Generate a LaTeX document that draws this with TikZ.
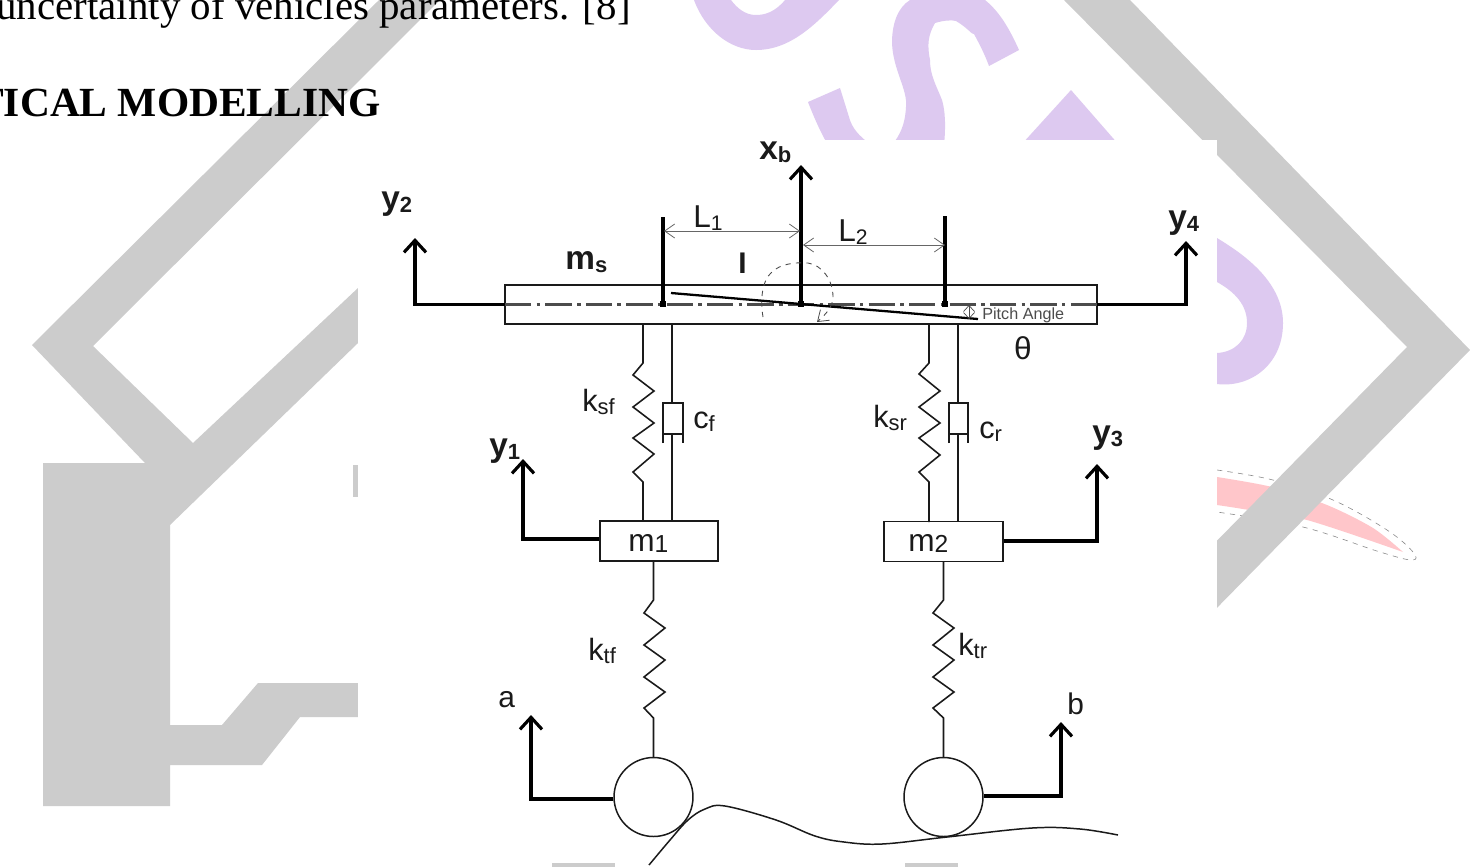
\documentclass[tikz,border=0pt]{standalone}
\usepackage{fontspec}
\setmainfont{Liberation Sans}
\newfontfamily\docserif{Liberation Serif}
\usetikzlibrary{arrows.meta,calc}
\definecolor{wmgray}{HTML}{CCCCCC}
\definecolor{wmpurple}{HTML}{DDC9F0}
\definecolor{wmpink}{HTML}{FFC6CA}
\definecolor{ink}{HTML}{1A1A1A}
\tikzset{
  wm/.style={fill=wmgray,draw=none},
  wp/.style={fill=wmpurple,draw=none},
  thin line/.style={draw=ink,line width=0.9pt},
  thick line/.style={draw=black,line width=1.9pt,line join=miter},
  move arrow/.style={thick line,-{Straight Barb[length=0.24cm,width=0.44cm,line width=1.8pt]}},
  dim arrow/.style={draw=black!60,line width=0.55pt,{Straight Barb[length=0.2cm,width=0.28cm,line width=0.45pt]}-{Straight Barb[length=0.2cm,width=0.28cm,line width=0.45pt]}},
  massbox/.style={draw=ink,line width=0.95pt,fill=white,inner sep=0pt,minimum height=0.8cm,minimum width=2.37cm},
  wheelnode/.style={draw=ink,line width=0.85pt,fill=white,circle,inner sep=0pt,minimum size=1.58cm},
  pin/.style={fill=black,inner sep=0pt,minimum size=0.13cm},
  lbl/.style={inner sep=0pt,text=ink},
}
\newcommand{\lab}[2]{{\fontsize{17.5}{17.5}\selectfont #1\raisebox{-0.12em}{\fontsize{12.5}{12.5}\selectfont #2}}}
\newcommand{\blab}[2]{{\bfseries\fontsize{19}{19}\selectfont #1\raisebox{-0.1em}{\fontsize{12.5}{12.5}\selectfont #2}}}
\begin{document}
\begin{tikzpicture}[x=0.02cm,y=-0.02cm]
\useasboundingbox (0,0) rectangle (1470,867);
\clip (0,0) rectangle (1470,867);
\fill[white] (0,0) rectangle (1470,867);
% watermark: purple letters
\fill[wp] (694,0) .. controls (705,30) and (730,50) .. (756,50) .. controls (790,50) and (815,25) .. (839,0) -- (785,0) .. controls (775,12) and (765,15) .. (756,15) .. controls (745,15) and (737,8) .. (731,0) -- cycle;
\fill[wp] (910,0) .. controls (897,8) and (892,25) .. (892,43) .. controls (893,70) and (908,90) .. (906,107) .. controls (905,125) and (900,135) .. (892,145)
  -- (871,145) .. controls (858,135) and (852,128) .. (849,117) -- (840,88) -- (808,102) .. controls (815,120) and (822,135) .. (828,145)
  -- (944,145) .. controls (946,125) and (945,110) .. (942,100) .. controls (936,85) and (930,75) .. (930,60) .. controls (927,45) and (928,35) .. (935,23) .. controls (945,20) and (952,20) .. (956,21) .. controls (968,28) and (972,35) .. (974,34) .. controls (980,45) and (985,55) .. (989,66) -- (1019,50) .. controls (1010,30) and (1000,12) .. (985,0) -- cycle;
\fill[wp] (1071,90) -- (1021,145) -- (1119,145) -- cycle;
\fill[wp] (1217,238) .. controls (1240,252) and (1283,280) .. (1283,323) .. controls (1283,365) and (1250,388) .. (1217,384) -- (1217,353) .. controls (1235,352) and (1247,340) .. (1247,323) .. controls (1247,305) and (1235,292) .. (1217,282) -- cycle;
% watermark: pink blade
\draw[black!45,line width=0.35pt,dashed] plot[smooth,tension=0.6] coordinates {(1217,470) (1273,480) (1333,500) (1387,530) (1413,552) (1412,560) (1380,552) (1303,527) (1217,512)};
\fill[wmpink] plot[smooth,tension=0.5] coordinates {(1217,477) (1272,487) (1327,505) (1373,528) (1403,552)} -- plot[smooth,tension=0.5] coordinates {(1403,552) (1307,520) (1243,509) (1217,505)} -- cycle;
% watermark: grey frame
\fill[wm] (379,0) -- (32,345) -- (145,463) -- (43,463) -- (43,806) -- (170,806) -- (170,765) -- (262,765) -- (300,717) -- (358,717) -- (358,683) -- (258,683) -- (222,725) -- (170,725) -- (170,525) -- (358,343) -- (358,288) -- (193,443) -- (93,346) -- (440,0) -- cycle;
\fill[wm] (1064,0) -- (1407,347) -- (1100,660) -- (1100,727) -- (1470,350) -- (1130,0) -- cycle;
% pasted figure panel
\fill[white] (358,140) rectangle (1217,862);
\fill[wm] (353,465) rectangle (358,497);
\fill[wm] (552,863) rectangle (615,867);
\fill[wm] (905,863) rectangle (958,867);
% page text
\node[anchor=base west,inner sep=0pt,text=black,font=\docserif\fontsize{23.3}{23.3}\selectfont] (bodyline) at (-4,19) {uncertainty of vehicles parameters. [8]};
\node[anchor=base east,inner sep=0pt,text=black,font=\docserif\bfseries\fontsize{23.6}{23.6}\selectfont] (heading) at (381,116) {TICAL MODELLING};
% body
\node[draw=ink,line width=0.85pt,fill=white,inner sep=0pt,minimum width=11.84cm,minimum height=0.78cm] (beam) at (801,304.5) {};
\coordinate (cl) at (505,304.5);
\coordinate (cr) at (1097,304.5);
\draw[black!70,line width=1.5pt,dash pattern=on 15pt off 3pt on 2pt off 3pt] (cl) -- (cr);
% markers
\coordinate (fb) at (663,304);
\coordinate (cb) at (801,304);
\coordinate (rb) at (945,304);
\coordinate (ft) at (663,217);
\coordinate (ct) at (801,165);
\coordinate (rt) at (945,216);
\draw[thick line] (fb) -- (ft);
\draw[thick line] (rb) -- (rt);
\draw[move arrow] (cb) -- (ct);
\node[pin] (fpin) at (fb) {};
\node[pin] (cpin) at (cb) {};
\node[pin] (rpin) at (rb) {};
% dimensions
\coordinate (d1a) at (664,231);
\coordinate (d1b) at (800,231);
\coordinate (d2a) at (803,245);
\coordinate (d2b) at (945,245);
\draw[dim arrow] (d1a) -- (d1b);
\draw[dim arrow] (d2a) -- (d2b);
\node[lbl,anchor=base west] (L1) at (693,227) {\fontsize{18}{18}\selectfont L\raisebox{-0.1em}{\fontsize{12}{12}\selectfont 1}};
\node[lbl,anchor=base west] (L2) at (838,241) {\fontsize{18}{18}\selectfont L\raisebox{-0.1em}{\fontsize{12}{12}\selectfont 2}};
% pitch line and rotation
\coordinate (pa) at (671,293);
\coordinate (pb) at (978,319);
\draw[draw=black,line width=1.3pt] (pa) -- (pb);
\draw[black!70,line width=0.5pt,dashed,-{Straight Barb[length=0.2cm,width=0.28cm,line width=0.45pt]}] (763,317) .. controls (760,300) and (762,280) .. (772,272) .. controls (780,264) and (795,262) .. (808,263) .. controls (822,265) and (833,280) .. (833,297) .. controls (833,307) and (825,315) .. (817,322);
\draw[black!70,line width=0.5pt,{Straight Barb[length=0.12cm,width=0.22cm,line width=0.4pt]}-{Straight Barb[length=0.12cm,width=0.22cm,line width=0.4pt]}] (969,305) -- (969,319);
\node[lbl,anchor=base west,text=black!70,font=\fontsize{9.2}{9.2}\selectfont] (pitch) at (982,319) {Pitch Angle};
\node[lbl,anchor=base,font=\fontsize{18}{18}\selectfont] (theta) at (1023,359) {θ};
% y2 / y4
\coordinate (y2c) at (415,304.5);
\coordinate (y2t) at (415,238);
\coordinate (y4c) at (1186,304.5);
\coordinate (y4t) at (1186,241);
\draw[move arrow] (cl) -- (y2c) -- (y2t);
\draw[move arrow] (cr) -- (y4c) -- (y4t);
\node[lbl,anchor=base west] (ly2) at (381,209) {\blab{y}{2}};
\node[lbl,anchor=base west] (ly4) at (1168,228) {\blab{y}{4}};
\node[lbl,anchor=base west] (lxb) at (759,159) {\blab{x}{b}};
\node[lbl,anchor=base west] (lms) at (565,269) {\blab{m}{s}};
\node[lbl,anchor=base west] (lI) at (738,273) {\bfseries\fontsize{17}{17}\selectfont I};
% masses
\node[massbox] (m1) at (659,541) {};
\node[massbox] (m2) at (943.5,541.5) {};
\node[lbl,anchor=base west] (lm1) at (628,551) {\fontsize{18}{18}\selectfont m\raisebox{-0.05em}{\fontsize{14}{14}\selectfont 1}};
\node[lbl,anchor=base west] (lm2) at (908,551) {\fontsize{18}{18}\selectfont m\raisebox{-0.05em}{\fontsize{14}{14}\selectfont 2}};
% front suspension
\draw[thin line] (643,324) -- (643,363) -- (633,375) -- (654,391) -- (633,407) -- (654,423) -- (633,438) -- (654,454) -- (633,472) -- (643,482) -- (643,521);
\draw[thin line] (672,324) -- (672,403);
\draw[thin line] (663,443) -- (663,403) -- (683,403) -- (683,443);
\draw[thin line] (663,434) -- (683,434);
\draw[thin line] (672,434) -- (672,521);
% rear suspension
\draw[thin line] (929,324) -- (929,363) -- (919,374) -- (940,391) -- (919,407) -- (940,423) -- (919,438) -- (940,455) -- (919,472) -- (929,482) -- (929,522);
\draw[thin line] (958,324) -- (958,403);
\draw[thin line] (949,443) -- (949,403) -- (968,403) -- (968,443);
\draw[thin line] (949,434) -- (968,434);
\draw[thin line] (958,434) -- (958,522);
% wheels
\node[wheelnode] (w1) at (653.5,797) {};
\node[wheelnode] (w2) at (943.5,797) {};
\coordinate (s1top) at (653.5,561);
\coordinate (s2top) at (943.5,561);
\draw[thin line] (s1top) -- (653.5,600) -- (644,613) -- (665,628) -- (644,645) -- (665,660) -- (644,677) -- (665,692) -- (644,708) -- (653.5,718) -- (w1.north);
\draw[thin line] (s2top) -- (943.5,600) -- (933,613) -- (954,628) -- (933,645) -- (954,660) -- (933,677) -- (954,692) -- (933,708) -- (943.5,718) -- (w2.north);
% y1 / y3
\coordinate (y1c) at (523,539);
\coordinate (y1t) at (523,459);
\coordinate (y3c) at (1097,541);
\coordinate (y3t) at (1097,464);
\draw[move arrow] (m1.west |- y1c) -- (y1c) -- (y1t);
\draw[move arrow] (m2.east |- y3c) -- (y3c) -- (y3t);
\node[lbl,anchor=base west] (ly1) at (489,456) {\blab{y}{1}};
\node[lbl,anchor=base west] (ly3) at (1092,443) {\blab{y}{3}};
% a / b
\coordinate (ac) at (531,799);
\coordinate (atip) at (531,715);
\coordinate (bc) at (1061,796);
\coordinate (btip) at (1061,722);
\draw[move arrow] (w1.west |- ac) -- (ac) -- (atip);
\draw[move arrow] (w2.east |- bc) -- (bc) -- (btip);
\node[lbl,anchor=base west,font=\fontsize{17}{17}\selectfont] (la) at (498,707) {a};
\node[lbl,anchor=base west,font=\fontsize{17}{17}\selectfont] (lb) at (1067,714) {b};
% spring labels
\node[lbl,anchor=base west] (lksf) at (582,411) {\lab{k}{sf}};
\node[lbl,anchor=base west] (lcf) at (693,428) {\lab{c}{f}};
\node[lbl,anchor=base west] (lksr) at (873,427) {\lab{k}{sr}};
\node[lbl,anchor=base west] (lcr) at (979,438) {\lab{c}{r}};
\node[lbl,anchor=base west] (lktf) at (588,660) {\lab{k}{tf}};
\node[lbl,anchor=base west] (lktr) at (958,655) {\lab{k}{tr}};
% road
\draw[ink,line width=0.85pt] plot[smooth,tension=0.6] coordinates {(649,865) (670,840) (688,820) (705,809) (725,806) (776,820) (815,836) (844,842) (882,844) (947,837) (1032,828) (1080,829) (1118,835)};
\end{tikzpicture}
\end{document}
